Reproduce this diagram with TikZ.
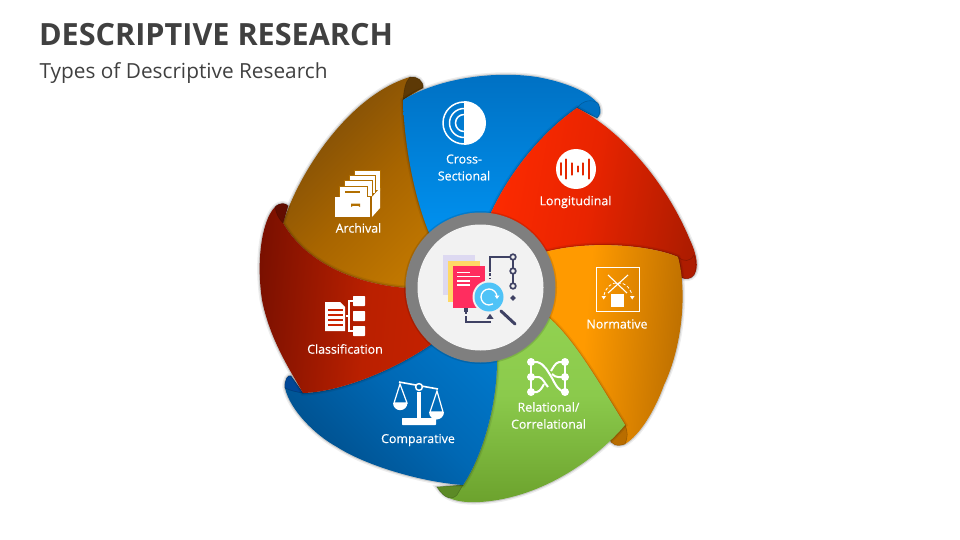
\documentclass[tikz,border=0pt]{standalone}
\usepackage{fontspec}
\usepackage{xcolor}
\usetikzlibrary{arrows.meta, shapes.geometric, positioning}
\setmainfont{Open Sans}
\newfontfamily\labelfont[FakeBold=0.4]{Open Sans}

\definecolor{inkgrey}{HTML}{404040}
\definecolor{ringgrey}{HTML}{7F7F7F}
\definecolor{hubgrey}{HTML}{F2F2F2}
\definecolor{icondark}{HTML}{3F4264}
\definecolor{pagepink}{HTML}{FF2D5F}
\definecolor{pageyellow}{HTML}{FFD966}
\definecolor{pagelilac}{HTML}{DDD9F1}
\definecolor{lensblue}{HTML}{4FC3F7}
\definecolor{brownA}{HTML}{7C4C08}
\definecolor{brownM}{HTML}{A86500}
\definecolor{brownB}{HTML}{C67B00}
\definecolor{blueA}{HTML}{0070C2}
\definecolor{blueM}{HTML}{0086E0}
\definecolor{blueB}{HTML}{009BFF}
\definecolor{redA}{HTML}{FF2B00}
\definecolor{redM}{HTML}{E82400}
\definecolor{redB}{HTML}{AE1C00}
\definecolor{orangeA}{HTML}{FF9A00}
\definecolor{orangeB}{HTML}{B96D00}
\definecolor{greenA}{HTML}{94D452}
\definecolor{greenM}{HTML}{8BCA4C}
\definecolor{greenB}{HTML}{6CA22D}
\definecolor{navyA}{HTML}{007ACE}
\definecolor{navyM}{HTML}{0068B4}
\definecolor{navyB}{HTML}{004F8C}
\definecolor{crimsonA}{HTML}{7A1000}
\definecolor{crimsonM}{HTML}{BA2000}
\definecolor{crimsonB}{HTML}{CB2300}

\begin{document}
\begin{tikzpicture}[x=1pt, y=-1pt,
    petal/.style n args={4}{left color=#1, right color=#3, middle color=#2, shading angle=#4,
        preaction={draw=black, opacity=.07, line width=5},
        preaction={draw=black, opacity=.14, line width=2.2}},
    curl/.style={fill=#1, draw=black, draw opacity=.2, line width=.6},
    label/.style={text=white, align=center, font={\labelfont\fontsize{12.4}{17}\selectfont}},
    whitebar/.style={fill=white, rounded corners=.6},
    dark/.style={draw=icondark, line width=1.7},
    weave/.style={draw=white, line width=2}]

    \useasboundingbox (0,0) rectangle (960,540);

    \node[anchor=west, text=inkgrey, font={\bfseries\fontsize{30.6}{36}\selectfont}] (title) at (35.5,35) {DESCRIPTIVE RESEARCH};
    \node[anchor=west, text=inkgrey, font={\fontsize{20.8}{24}\selectfont}] (subtitle) at (36,73) {Types of Descriptive Research};

    \coordinate (hub) at (480.5,287.5);
    \coordinate (brownTip) at (403,100);
    \coordinate (blueTip) at (577,108);
    \coordinate (blueFoot) at (490,215);
    \coordinate (redTip) at (678,257);
    \coordinate (redFoot) at (545,252);
    \coordinate (orangeTip) at (625,425);
    \coordinate (orangeFoot) at (548,317);
    \coordinate (greenTip) at (463,485);
    \coordinate (greenFoot) at (497,360);
    \coordinate (navyTip) at (303,393);
    \coordinate (navyFoot) at (433,343);
    \coordinate (crimsonTip) at (283,223);
    \coordinate (crimsonFoot) at (408,288);
    \coordinate (brownFoot) at (430,235);

    \shade[petal={brownA}{brownM}{brownB}{45}] (hub) -- (crimsonFoot) .. controls (370,286) and (310,270) .. (crimsonTip)
        .. controls (300,170) and (350,95) .. (410,77) .. controls (417,76) and (424,81) .. (423,88) -- (brownTip) -- (brownFoot) -- cycle;
    \path[curl=brownA!75!black] (brownTip) .. controls (404,90) and (405,82) .. (410,77) .. controls (417,76) and (424,81) .. (423,88) .. controls (415,91) and (409,95) .. cycle;

    \shade[petal={blueA}{blueM}{blueB}{0}] (brownTip) .. controls (435,80) and (490,70) .. (537,77) .. controls (565,82) and (590,92) .. (599,105)
        .. controls (602,112) and (600,116) .. (597,118) -- (blueTip) .. controls (545,130) and (510,170) .. (blueFoot) -- (hub) -- (brownFoot)
        .. controls (413,195) and (404,140) .. cycle;
    \path[curl=blueA] (blueTip) .. controls (583,100) and (592,99) .. (598,103) .. controls (601,110) and (600,115) .. (597,118) -- cycle;

    \shade[petal={redA}{redM}{redB}{80}] (blueFoot) .. controls (510,170) and (545,130) .. (blueTip) .. controls (620,130) and (665,180) .. (690,240)
        .. controls (697,255) and (699,268) .. (694,275) .. controls (691,279) and (685,280) .. (680,277) -- (redTip)
        .. controls (650,245) and (590,240) .. (redFoot) -- (hub) -- cycle;
    \path[curl=redB] (redTip) .. controls (682,270) and (680,274) .. (681,277) .. controls (686,280) and (691,279) .. (694,275) .. controls (697,268) and (696,262) .. (694,255) .. controls (690,262) and (684,262) .. cycle;

    \shade[petal={orangeA}{orangeA}{orangeB}{85}] (redFoot) .. controls (590,240) and (650,245) .. (redTip) .. controls (687,290) and (683,345) .. (664,385)
        .. controls (655,410) and (640,435) .. (625,444) .. controls (618,447) and (610,445) .. (610,438) -- (orangeTip)
        .. controls (600,385) and (575,340) .. (orangeFoot) -- (hub) -- cycle;
    \path[curl=orangeB] (orangeTip) .. controls (618,430) and (612,434) .. (610,438) .. controls (610,445) and (618,447) .. (625,444) .. controls (628,438) and (628,431) .. cycle;

    \shade[petal={greenA}{greenM}{greenB}{0}] (orangeFoot) .. controls (575,340) and (600,385) .. (orangeTip) .. controls (600,455) and (545,498) .. (480,502)
        .. controls (460,503) and (445,500) .. (437,487) -- (greenTip) .. controls (480,460) and (497,410) .. (greenFoot) -- (hub) -- cycle;
    \path[curl=greenB!85!black] (437,487) .. controls (445,500) and (452,500) .. (457,495) -- (greenTip) -- cycle;

    \shade[petal={navyA}{navyM}{navyB}{315}] (greenFoot) .. controls (497,410) and (480,460) .. (greenTip) .. controls (420,482) and (365,465) .. (337,447)
        .. controls (315,435) and (290,410) .. (285,388) .. controls (284,380) and (288,374) .. (291,376) -- (navyTip)
        .. controls (340,392) and (395,370) .. (navyFoot) -- (hub) -- cycle;
    \path[curl=navyB!90!blue] (navyTip) -- (291,376) .. controls (288,374) and (284,380) .. (285,388) .. controls (291,391) and (297,392) .. cycle;

    \shade[petal={crimsonA}{crimsonM}{crimsonB}{85}] (navyFoot) .. controls (395,370) and (340,392) .. (navyTip) .. controls (290,370) and (270,340) .. (262,300)
        .. controls (256,260) and (262,220) .. (275,207) .. controls (280,202) and (286,203) .. (288,206) -- (crimsonTip)
        .. controls (310,270) and (370,286) .. (crimsonFoot) -- (hub) -- cycle;
    \path[curl=crimsonA!80!black] (crimsonTip) -- (288,206) .. controls (286,203) and (280,202) .. (275,207) .. controls (276,214) and (279,219) .. cycle;

    \fill[black, opacity=.12] (hub) circle (76.5);
    \fill[ringgrey] (hub) circle (75);
    \fill[hubgrey] (hub) circle (63);

    \fill[pagelilac] (443,255) rectangle (475,295);
    \fill[pageyellow] (448,261) rectangle (480,302);
    \fill[pagepink] (453,266) rectangle (485,308);
    \foreach \y/\xend in {272.5/470, 276.5/480, 281/470, 285/470}
        \fill[white] (457,\y-.8) rectangle (\xend,\y+.8);
    \draw[dark] (490,272) -- (490,257) -- (513,257) -- (513,286);
    \draw[dark, densely dashed] (490,273) -- (490,279);
    \foreach \y in {257,271,286}
        \draw[dark, fill=hubgrey] (513,\y) circle (2.8);
    \node[diamond, fill=icondark, inner sep=0pt, minimum size=6pt] (spark) at (513,298) {};
    \fill[icondark] (464,308) rectangle (468,312);
    \draw[dark] (466,316) -- (466,322) -- (491,322);
    \draw[dark] (466,312) -- (466,314);
    \node[isosceles triangle, isosceles triangle apex angle=70, shape border rotate=90, fill=icondark, inner sep=0pt, minimum size=5pt] (pointer) at (490,317) {};
    \draw[icondark, line width=3, line cap=round] (501,311) -- (515,324);
    \fill[hubgrey] (489,297) circle (16.5);
    \fill[lensblue] (489,297) circle (14.5);
    \draw[white, line width=1.3] (497,297) arc (0:-300:8);
    \fill[white] (494.5,295.5) -- (499.5,295.5) -- (497,299) -- cycle;

    \node[label] (crossLabel) at (464,167.5) {Cross-\\Sectional};
    \node[label] (longLabel) at (575.5,202) {Longitudinal};
    \node[label] (normLabel) at (617,324) {Normative};
    \node[label] (relLabel) at (548.5,415.5) {Relational/\\Correlational};
    \node[label] (compLabel) at (418,440) {Comparative};
    \node[label] (classLabel) at (345,349) {Classification};
    \node[label] (archLabel) at (358.5,228) {Archival};

    \fill[white] (464,101) arc (-90:90:22) -- cycle;
    \foreach \r in {21,14.5,8.5}
        \draw[white, line width=1.5] (464,123+\r) arc (90:270:\r);

    \fill[white] (576,169) circle (20);
    \foreach \x/\h in {561/6, 565.7/9.7, 571.7/5.8, 578/2.7, 583.3/5.8, 589.3/9.7}
        \draw[redA!90!black, line width=1.8, line cap=round] (\x,169-\h) -- (\x,169+\h);

    \foreach \x/\y/\xend/\yend in {354/170/380/190, 349/175/375/193, 344/180/372/196}
        \draw[fill=white, draw=brownB!90!black, line width=.8] (\x,\y) rectangle (\xend,\yend);
    \draw[fill=white, draw=brownB!90!black, line width=.8] (339,186) rectangle (367,197);
    \fill[brownB!90!black] (345,190.5) rectangle (360,192.7);
    \fill[white] (335,197) rectangle (370,217);
    \fill[white] (372,197) -- (380,188) -- (380,208) -- (372,217) -- cycle;
    \fill[brownB!90!black] (351,203.5) -- (360,203.5) -- (360,207) -- (358,205.8) -- (353,205.8) -- (351,207) -- cycle;

    \fill[white] (325,302) -- (340,302) -- (345,307) -- (345,331) -- (325,331) -- cycle;
    \foreach \y in {310,315,320,325}
        \fill[crimsonB] (328,\y-.8) rectangle (343,\y+.8);
    \draw[white, line width=1.4] (346,316) -- (349,316) (353,301) -- (349,301) -- (349,331) -- (353,331);
    \foreach \y in {296,311,326}
        \fill[whitebar] (353,\y) rectangle (365,\y+10);

    \draw[white, line width=1.6] (399,382) -- (438,389);
    \fill[whitebar] (402,418) rectangle (436,425);
    \fill[white] (416.5,392) rectangle (421,418);
    \draw[white, line width=1.5, fill=navyA!85!black] (419,387) circle (3.4);
    \draw[white, line width=1.2] (394,403) -- (400,384) -- (407,403) -- cycle;
    \fill[white] (393,403) arc (180:0:7.2) -- cycle;
    \draw[white, line width=1.2] (430,412) -- (437,391) -- (443,412) -- cycle;
    \fill[white] (429,412) arc (180:0:7.5) -- cycle;

    \draw[white, line width=.9] (596,267) rectangle (639,311);
    \fill[white] (611,294) rectangle (624,307);
    \draw[white, line width=1.1] (608,275) -- (627,293) (628,275) -- (608,293);
    \draw[white, line width=.8, densely dashed] (604,295) .. controls (606,287) and (612,282) .. (618,283) .. controls (624,282) and (630,287) .. (632,295);
    \fill[white] (601.5,296) -- (606,296) -- (603.7,299.5) -- cycle;
    \fill[white] (630,296) -- (634.5,296) -- (632.2,299.5) -- cycle;

    \draw[white, line width=1.3] (531,362) -- (531,392) (565,362) -- (565,392);
    \draw[weave] (531,362) -- (537,362) .. controls (545,364) and (548,372) .. (552,378) .. controls (556,386) and (559,391) .. (565,392);
    \draw[weave] (531,377) -- (539,377) .. controls (543,378) and (545,384) .. (548,387);
    \draw[weave] (531,392) -- (537,392) .. controls (540,391) and (542,388) .. (544,384);
    \draw[weave] (565,362) -- (559,362) .. controls (555,363) and (553,368) .. (551,371);
    \draw[weave] (565,377) -- (558,377) .. controls (556,377) and (554,376) .. (552,374);
    \foreach \x in {531,565} \foreach \y in {362,377,392}
        \fill[white] (\x,\y) circle (4);

\end{tikzpicture}
\end{document}
